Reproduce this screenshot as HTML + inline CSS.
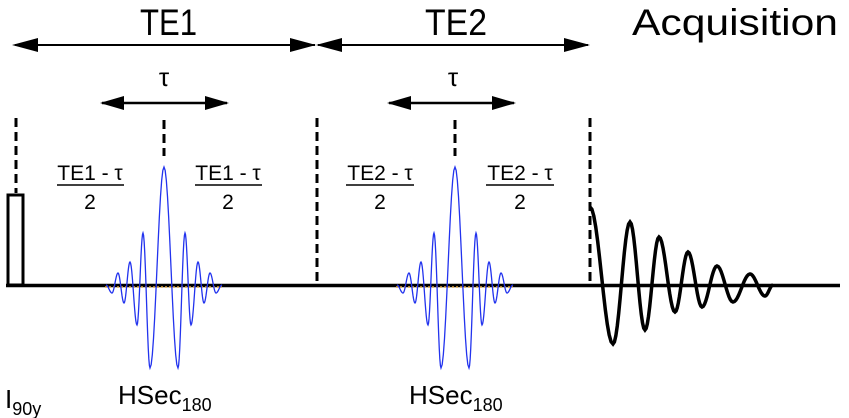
<!DOCTYPE html>
<html><head><meta charset="utf-8"><style>
html,body{margin:0;padding:0;background:#fff;}
svg{display:block;}
text{font-family:"Liberation Sans","DejaVu Sans",sans-serif;fill:#000;}
</style></head><body>
<svg id="s" width="849" height="418" viewBox="0 0 849 418" xmlns="http://www.w3.org/2000/svg">
<line x1="15" y1="45" x2="315" y2="45" stroke="#000" stroke-width="2"/>
<path d="M12,45 L38,38 L38,52 Z"/><path d="M316,45 L290,38 L290,52 Z"/>
<line x1="318" y1="45" x2="588" y2="45" stroke="#000" stroke-width="2"/>
<path d="M316,45 L342,38 L342,52 Z"/><path d="M590,45 L564,38 L564,52 Z"/>
<line x1="102" y1="103" x2="227" y2="103" stroke="#000" stroke-width="2.5"/>
<path d="M100,103 L124,96 L124,110 Z"/><path d="M229,103 L205,96 L205,110 Z"/>
<line x1="389" y1="103" x2="514" y2="103" stroke="#000" stroke-width="2.5"/>
<path d="M387,103 L411,96 L411,110 Z"/><path d="M516,103 L492,96 L492,110 Z"/>
<text x="140" y="35" font-size="37" textLength="57" lengthAdjust="spacingAndGlyphs">TE1</text>
<text x="425" y="35" font-size="37" textLength="62" lengthAdjust="spacingAndGlyphs">TE2</text>
<text x="632" y="35" font-size="37" textLength="206" lengthAdjust="spacingAndGlyphs">Acquisition</text>
<text x="164" y="86" font-size="26" text-anchor="middle">τ</text>
<text x="453" y="86" font-size="26" text-anchor="middle">τ</text>
<g font-size="21" text-anchor="middle">
<text x="90" y="180">TE1 - τ</text><text x="90" y="209">2</text>
<text x="228" y="180">TE1 - τ</text><text x="228" y="209">2</text>
<text x="380" y="180">TE2 - τ</text><text x="380" y="209">2</text>
<text x="520" y="180">TE2 - τ</text><text x="520" y="209">2</text>
</g>
<g stroke="#000" stroke-width="1.5">
<line x1="57" y1="185" x2="124" y2="185"/><line x1="195" y1="185" x2="262" y2="185"/>
<line x1="346" y1="185" x2="414" y2="185"/><line x1="486" y1="185" x2="554" y2="185"/>
</g>
<g stroke="#000" stroke-width="3" stroke-dasharray="9,5">
<line x1="16" y1="118" x2="16" y2="193"/>
<line x1="164" y1="120" x2="164" y2="156"/>
<line x1="317" y1="118" x2="317" y2="285"/>
<line x1="455" y1="120" x2="455" y2="156"/>
<line x1="590" y1="118" x2="590" y2="285"/>
</g>
<line x1="6" y1="285.5" x2="840" y2="285.5" stroke="#000" stroke-width="3.5"/>
<rect x="8" y="195" width="15" height="90" fill="none" stroke="#000" stroke-width="3"/>
<line x1="105" y1="287" x2="222" y2="287" stroke="#d9a040" stroke-width="1.5" stroke-dasharray="2,2"/>
<line x1="396" y1="287" x2="513" y2="287" stroke="#d9a040" stroke-width="1.5" stroke-dasharray="2,2"/>
<path id="p1" fill="none" stroke="#2233ee" stroke-width="1.3"/>
<path id="p2" fill="none" stroke="#2233ee" stroke-width="1.3"/>
<path id="fid" fill="none" stroke="#000" stroke-width="3.5"/>
<text x="5" y="408" font-size="26">I<tspan font-size="18" dy="7">90y</tspan></text>
<text x="118" y="404" font-size="26">HSec<tspan font-size="18" dy="7">180</tspan></text>
<text x="409" y="404" font-size="26">HSec<tspan font-size="18" dy="7">180</tspan></text>
</svg>
<script>
function interp(ext){
 let d="M"+ext[0][0]+","+ext[0][1];
 for(let i=0;i<ext.length-1;i++){
  const [x0,y0]=ext[i],[x1,y1]=ext[i+1];
  for(let t=1;t<=12;t++){const u=t/12,w=(1-Math.cos(Math.PI*u))/2;
   d+=" L"+(x0+(x1-x0)*u).toFixed(2)+","+(y0+(y1-y0)*w).toFixed(2);}
 }
 return d;
}
const off=[[0,-118],[14,83],[21,-52],[27,40],[34,-23],[40,18],[46,-12],[52,8],[58,0]];
function pulse(c){
 let e=[];
 for(let i=off.length-1;i>0;i--)e.push([c-off[i][0],285+off[i][1]]);
 e.push([c,167]);
 for(let i=1;i<off.length;i++)e.push([c+off[i][0],285+off[i][1]]);
 return interp(e);
}
document.getElementById('p1').setAttribute('d',pulse(164));
document.getElementById('p2').setAttribute('d',pulse(455));
const f=[[590,207],[613,344],[630,222],[645,330],[659,237],[675,312],[688,252],[702,307],[717,266],[733,302],[750,274],[765,296],[773,285]];
document.getElementById('fid').setAttribute('d',interp(f));
</script>
</body></html>
